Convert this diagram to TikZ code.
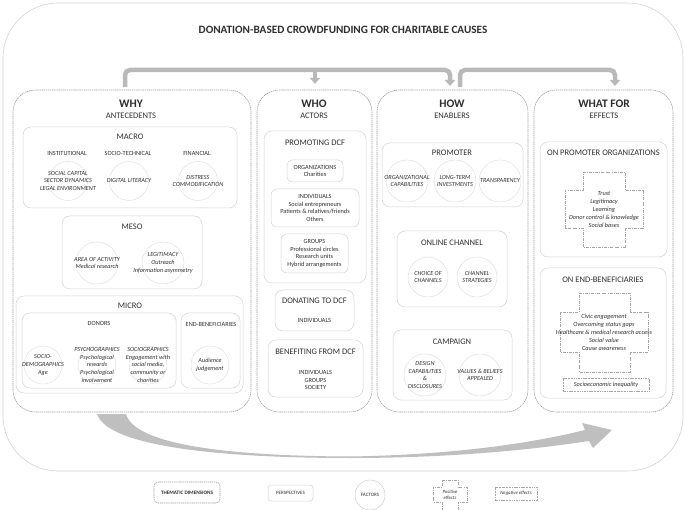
\documentclass[tikz,border=0pt]{standalone}
\usepackage{fontspec}
\setmainfont{Carlito}
\usetikzlibrary{arrows.meta,calc}
\definecolor{txt}{HTML}{2E2E2E}
\tikzset{
  colbox/.style={draw=gray!75, line width=0.6pt, dash pattern=on 1.4pt off 0.7pt, rounded corners=22pt},
  panel/.style={draw=gray!35, line width=0.5pt, rounded corners=8pt},
  factor/.style={circle, draw=gray!25, line width=0.5pt, minimum size=#1, inner sep=0pt},
  effect/.style={draw=gray!70, line width=0.5pt, dash pattern=on 3pt off 1.2pt on 0.7pt off 1.2pt},
  flowarrow/.style={draw=gray!55, line width=4.5pt, rounded corners=5pt, -{Triangle[width=10pt,length=6pt]}},
  heading/.style={font=\fontsize{11.5}{13}\selectfont\bfseries, text=txt},
  subhead/.style={font=\fontsize{8.5}{10}\selectfont, text=txt},
  paneltitle/.style={font=\fontsize{8.5}{10}\selectfont, text=txt},
  tag/.style={font=\fontsize{6.3}{7.8}\selectfont, text=txt, align=center},
  ftext/.style={font=\fontsize{6.2}{7.7}\selectfont\itshape, text=txt, align=center, inner sep=0pt},
  etext/.style={font=\fontsize{6.3}{8}\selectfont\itshape, text=txt, align=center, inner sep=0pt},
  legtext/.style={font=\fontsize{5}{6}\selectfont, text=txt, align=center, inner sep=0pt},
}
\begin{document}
\begin{tikzpicture}[x=1pt, y=-1pt]
  \useasboundingbox (0,0) rectangle (685,510);
  % frame
  \draw[gray!35, line width=0.6pt, rounded corners=55pt] (3,3) rectangle (683,471);
  \node[font=\fontsize{11.2}{13}\selectfont\bfseries, text=txt] (title) at (343,30) {DONATION-BASED CROWDFUNDING FOR CHARITABLE CAUSES};
  % columns
  \draw[colbox] (13,90) rectangle (251,412);
  \draw[colbox] (257,90) rectangle (372,412);
  \draw[colbox] (377,90) rectangle (528,412);
  \draw[colbox] (534,90) rectangle (673,412);
  % top arrows
  \coordinate (whyout) at (125,87);
  \coordinate (whoin) at (315,84);
  \coordinate (howin) at (450,86);
  \coordinate (howout) at (460,87);
  \coordinate (forin) at (615,86);
  \draw[flowarrow] (whyout) |- (howin |- 0,70) -- (howin);
  \draw[flowarrow, rounded corners=0pt] (whoin |- 0,70) -- (whoin);
  \draw[flowarrow] (howout) |- (forin |- 0,70) -- (forin);
  % bottom arrow
  \fill[gray!50] (97,414) .. controls (108,448) and (230,458) .. (350,458)
    .. controls (450,458) and (530,450) .. (589,441) -- (593,448) -- (612,430) -- (582,423) -- (585,430)
    .. controls (520,446) and (440,455) .. (350,456.5)
    .. controls (235,456) and (135,446) .. (126,414) -- cycle;
  % WHY
  \node[heading] (why) at (131,104) {WHY};
  \node[subhead] (antecedents) at (131,116) {ANTECEDENTS};
  \draw[panel] (23,127) rectangle (237,208);
  \node[paneltitle] (macro) at (130,137) {MACRO};
  \node[tag] (institutional) at (67,153) {INSTITUTIONAL};
  \node[tag] (sociotech) at (128,153) {SOCIO-TECHNICAL};
  \node[tag] (financial) at (197,153) {FINANCIAL};
  \node[factor=39pt] (capital) at (68,181) {};
  \node[ftext] at (capital) {SOCIAL CAPITAL\\SECTOR DYNAMICS\\LEGAL ENVIRONMENT};
  \node[factor=39pt] (literacy) at (129,181) {};
  \node[ftext] at (literacy) {DIGITAL LITERACY};
  \node[factor=39pt] (distress) at (198,181) {};
  \node[ftext] at (distress) {DISTRESS\\COMMODIFICATION};
  \draw[panel] (62,216) rectangle (202,289);
  \node[paneltitle] (meso) at (132,227) {MESO};
  \node[factor=42pt] (activity) at (97,263) {};
  \node[ftext] at (activity) {AREA OF ACTIVITY\\Medical research};
  \node[factor=42pt] (legitimacy) at (163,263) {};
  \node[ftext] at (legitimacy) {LEGITIMACY\\Outreach\\Information asymmetry};
  \draw[panel] (16,296) rectangle (243,393);
  \node[paneltitle] (micro) at (130,306) {MICRO};
  \draw[panel] (22,313) rectangle (176,388);
  \draw[panel] (181,313) rectangle (240,388);
  \node[tag] (donors) at (99,323) {DONORS};
  \node[tag] (endben) at (211,324) {END-BENEFICIARIES};
  \node[factor=38pt] (sociodem) at (43,365) {};
  \node[ftext] at (sociodem) {SOCIO-\\DEMOGRAPHICS\\Age};
  \node[factor=38pt] (psycho) at (97,365) {};
  \node[ftext] at (psycho) {PSYCHOGRAPHICS\\Psychological\\rewards\\Psychological\\involvement};
  \node[factor=38pt] (sociogr) at (148,365) {};
  \node[ftext] at (sociogr) {SOCIOGRAPHICS\\Engagement with\\social media,\\community or\\charities};
  \node[factor=38pt] (audience) at (210,365) {};
  \node[ftext] at (audience) {Audience\\judgement};
  % WHO
  \node[heading] (who) at (314,104) {WHO};
  \node[subhead] (actors) at (314,116) {ACTORS};
  \draw[panel] (264,131) rectangle (366,283);
  \node[paneltitle] (promoting) at (315,143) {PROMOTING DCF};
  \draw[panel, rounded corners=5pt] (287,160) rectangle (343,182);
  \node[tag] (orgs) at (315,171) {ORGANIZATIONS\\Charities};
  \draw[panel, rounded corners=6pt] (271,189) rectangle (359,227);
  \node[tag] (indiv) at (315,208) {INDIVIDUALS\\Social entrepreneurs\\Patients \& relatives/friends\\Others};
  \draw[panel, rounded corners=6pt] (281,234) rectangle (348,273);
  \node[tag] (groups) at (314.5,253.5) {GROUPS\\Professional circles\\Research units\\Hybrid arrangements};
  \draw[panel] (275,290) rectangle (354,331);
  \node[paneltitle] (donating) at (314.5,301) {DONATING TO DCF};
  \node[tag] (donind) at (314.5,320) {INDIVIDUALS};
  \draw[panel] (268,340) rectangle (363,397);
  \node[paneltitle] (benefiting) at (315.5,352) {BENEFITING FROM DCF};
  \node[tag] (benlist) at (315.5,380) {INDIVIDUALS\\GROUPS\\SOCIETY};
  % HOW
  \node[heading] (how) at (452,104) {HOW};
  \node[subhead] (enablers) at (452,116) {ENABLERS};
  \draw[panel] (382,143) rectangle (523,207);
  \node[paneltitle] (promoter) at (452,153) {PROMOTER};
  \node[factor=42pt] (orgcap) at (407,181) {};
  \node[ftext] at (orgcap) {ORGANIZATIONAL\\CAPABILITIES};
  \node[factor=42pt] (longterm) at (455,181) {};
  \node[ftext] at (longterm) {LONG-TERM\\INVESTMENTS};
  \node[factor=42pt] (transp) at (500,181) {};
  \node[ftext] at (transp) {TRANSPARENCY};
  \draw[panel] (397,231) rectangle (507,307);
  \node[paneltitle] (online) at (452,243) {ONLINE CHANNEL};
  \node[factor=40pt] (choice) at (428,277) {};
  \node[ftext] at (choice) {CHOICE OF\\CHANNELS};
  \node[factor=40pt] (strategies) at (477,277) {};
  \node[ftext] at (strategies) {CHANNEL\\STRATEGIES};
  \draw[panel] (393,330) rectangle (512,400);
  \node[paneltitle] (campaign) at (452,342) {CAMPAIGN};
  \node[factor=42pt] (design) at (425,375) {};
  \node[ftext] at (design) {DESIGN\\CAPABILITIES\\\&\\DISCLOSURES};
  \node[factor=42pt] (values) at (480,375) {};
  \node[ftext] at (values) {VALUES \& BELIEFS\\APPEALED};
  % WHAT FOR
  \node[heading] (whatfor) at (604,104) {WHAT FOR};
  \node[subhead] (effects) at (604,116) {EFFECTS};
  \draw[panel] (540,142) rectangle (667,257);
  \node[paneltitle] (onpromoter) at (603.5,153) {ON PROMOTER ORGANIZATIONS};
  \draw[effect] (583,172) -- (625,172) -- (625,190) -- (643,190) -- (643,228) -- (625,228) -- (625,247)
    -- (583,247) -- (583,228) -- (565,228) -- (565,190) -- (583,190) -- cycle;
  \node[etext] (poseff) at (604,210) {Trust\\Legitimacy\\Learning\\Donor control \& knowledge\\Social bases};
  \draw[panel] (540,268) rectangle (666,398);
  \node[paneltitle] (onendben) at (603,280) {ON END-BENEFICIARIES};
  \draw[effect] (579,293) -- (630,293) -- (630,312) -- (648,312) -- (648,352) -- (630,352) -- (630,372)
    -- (579,372) -- (579,352) -- (560,352) -- (560,312) -- (579,312) -- cycle;
  \node[etext] (benpos) at (604,332) {Civic engagement\\Overcoming status gaps\\Healthcare \& medical research access\\Social value\\Cause awareness};
  \draw[effect, dash pattern=on 2.5pt off 1pt on 0.6pt off 1pt on 0.6pt off 1pt] (563,378) rectangle (649,391);
  \node[etext] (inequality) at (606,384.5) {Socioeconomic inequality};
  % legend
  \draw[colbox, rounded corners=4pt] (154,482) rectangle (220,503);
  \node[legtext, font=\fontsize{5.2}{6}\selectfont\bfseries] (legdim) at (187,492.5) {THEMATIC DIMENSIONS};
  \draw[panel, rounded corners=3pt] (268,485) rectangle (313,501);
  \node[legtext] (legpersp) at (290.5,493) {PERSPECTIVES};
  \node[factor=30pt, draw=gray!40] (legfact) at (370,495) {};
  \node[legtext] at (legfact) {FACTORS};
  \draw[effect] (442,480) -- (458,480) -- (458,487) -- (467,487) -- (467,502) -- (458,502) -- (458,510)
    -- (442,510) -- (442,502) -- (433,502) -- (433,487) -- (442,487) -- cycle;
  \node[legtext, font=\fontsize{4.8}{6}\selectfont\itshape] (legpos) at (450,494.5) {Positive\\effects};
  \draw[effect, dash pattern=on 2.5pt off 1pt on 0.6pt off 1pt on 0.6pt off 1pt] (495,487) rectangle (537,500);
  \node[legtext, font=\fontsize{4.8}{6}\selectfont\itshape] (legneg) at (516,493.5) {Negative effects};
\end{tikzpicture}
\end{document}
